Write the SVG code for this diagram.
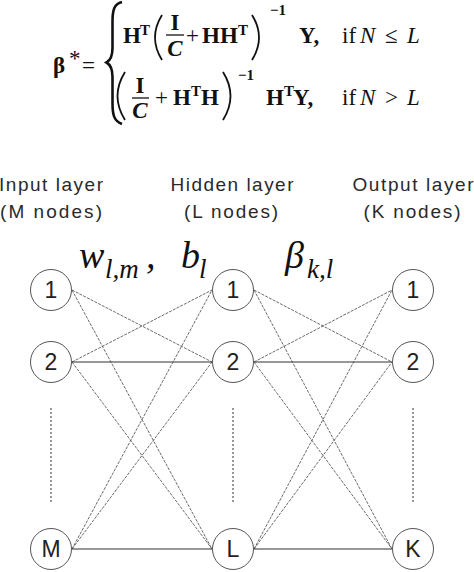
<svg xmlns="http://www.w3.org/2000/svg" width="474" height="572" viewBox="0 0 474 572">
<style>
.b{font-family:"Liberation Serif","DejaVu Serif",serif;font-weight:bold;font-size:23px;fill:#111}
.s{font-family:"Liberation Serif","DejaVu Serif",serif;font-weight:bold;font-size:15px;fill:#111}
.r{font-family:"Liberation Serif","DejaVu Serif",serif;font-size:23px;fill:#111}
.i{font-family:"Liberation Serif","DejaVu Serif",serif;font-style:italic;font-size:23px;fill:#111}
.p{fill:none;stroke:#111;stroke-width:1.8}
.lbl{font-family:"Liberation Sans","DejaVu Sans",sans-serif;font-size:19px;fill:#2a2a2a;text-anchor:middle}
.w{font-family:"Liberation Serif","DejaVu Serif",serif;font-style:italic;fill:#111}
.node circle{fill:#fff;stroke:#555;stroke-width:1}
.node text{font-family:"Liberation Sans","DejaVu Sans",sans-serif;font-size:23px;fill:#222;text-anchor:middle}
.d{stroke:#444;stroke-width:0.8;stroke-dasharray:3 1.2;fill:none}
.h{stroke:#333;stroke-width:1.2;fill:none}
.v{stroke:#333;stroke-width:1;stroke-dasharray:2 2;fill:none}
</style>
<g id="formula">
<text class="b" x="53" y="73">β</text><text class="r" x="69" y="66" font-size="15">*</text>
<text class="r" x="82" y="73">=</text>
<path d="M122 2 C114 4 112.5 10 112.5 22 L112.5 48 C112.5 56 111 60 106.5 62.5 C111 65 112.5 69 112.5 77 L112.5 103 C112.5 115 114 121 122 124" fill="none" stroke="#111" stroke-width="2.6"/>
<text class="b" x="123" y="43">H</text><text class="s" x="140" y="35">T</text>
<path class="p" d="M162 15 Q148 37.5 162 60"/>
<text class="b" x="175" y="30" text-anchor="middle" font-size="20">I</text>
<line x1="166" y1="35" x2="184" y2="35" stroke="#111" stroke-width="1.3"/>
<text class="i" x="175" y="56" text-anchor="middle" font-weight="bold">C</text>
<text class="r" x="186" y="43">+</text>
<text class="b" x="202" y="43">HH</text><text class="s" x="238" y="35">T</text>
<path class="p" d="M252 15 Q266 37.5 252 60"/>
<text class="s" x="270" y="15">−1</text>
<text class="b" x="299" y="43">Y,</text>
<text class="r" x="342" y="43">if</text><text class="i" x="360" y="43">N</text><text class="r" x="385" y="43">≤</text><text class="i" x="407" y="43">L</text>

<path class="p" d="M125 72 Q110 96 125 120"/>
<text class="b" x="140" y="93" text-anchor="middle" font-size="20">I</text>
<line x1="132" y1="98" x2="149" y2="98" stroke="#111" stroke-width="1.3"/>
<text class="i" x="140" y="118" text-anchor="middle" font-weight="bold">C</text>
<text class="r" x="155" y="105">+</text>
<text class="b" x="173" y="105">H</text><text class="s" x="191" y="96">T</text><text class="b" x="201" y="105">H</text>
<path class="p" d="M223 72 Q238 96 223 120"/>
<text class="s" x="238" y="80">−1</text>
<text class="b" x="266" y="105">H</text><text class="s" x="284" y="96">T</text><text class="b" x="293" y="105">Y,</text>
<text class="r" x="342" y="105">if</text><text class="i" x="360" y="105">N</text><text class="r" x="385" y="105">&gt;</text><text class="i" x="407" y="105">L</text>
</g>
<g id="labels">
<text class="lbl" x="51" y="191" textLength="104">Input layer</text>
<text class="lbl" x="51" y="218" textLength="102">(M nodes)</text>
<text class="lbl" x="232" y="191" textLength="123">Hidden layer</text>
<text class="lbl" x="231" y="218" textLength="94">(L nodes)</text>
<text class="lbl" x="413" y="191" textLength="121">Output layer</text>
<text class="lbl" x="412" y="218" textLength="97">(K nodes)</text>
<text class="w" x="79" y="268" font-size="38">w</text><text class="w" x="105" y="278" font-size="27">l,m</text><text class="w" x="146" y="268" font-size="38">,</text>
<text class="w" x="181" y="268" font-size="38">b</text><text class="w" x="199" y="278" font-size="27">l</text>
<text class="w" x="285" y="268" font-size="38">β</text><text class="w" x="307" y="278" font-size="27">k,l</text>
</g>
<g id="connectors">
<line class="d" x1="72" y1="290" x2="212" y2="362"/>
<line class="d" x1="72" y1="290" x2="212" y2="549"/>
<line class="d" x1="72" y1="362" x2="212" y2="290"/>
<line class="h" x1="72" y1="362" x2="212" y2="362"/>
<line class="d" x1="72" y1="362" x2="212" y2="549"/>
<line class="d" x1="72" y1="549" x2="212" y2="290"/>
<line class="d" x1="72" y1="549" x2="212" y2="362"/>
<line class="h" x1="72" y1="549" x2="212" y2="549"/>
<line class="d" x1="254" y1="290" x2="392" y2="362"/>
<line class="d" x1="254" y1="290" x2="392" y2="549"/>
<line class="d" x1="254" y1="362" x2="392" y2="290"/>
<line class="h" x1="254" y1="362" x2="392" y2="362"/>
<line class="d" x1="254" y1="362" x2="392" y2="549"/>
<line class="d" x1="254" y1="549" x2="392" y2="290"/>
<line class="d" x1="254" y1="549" x2="392" y2="362"/>
<line class="h" x1="254" y1="549" x2="392" y2="549"/>
<line class="v" x1="51" y1="408" x2="51" y2="504"/>
<line class="v" x1="233" y1="408" x2="233" y2="504"/>
<line class="v" x1="413" y1="408" x2="413" y2="504"/>
</g>
<g id="in1" class="node"><circle cx="51" cy="290" r="20.5"/><text x="51" y="298">1</text></g>
<g id="in2" class="node"><circle cx="51" cy="362" r="20.5"/><text x="51" y="370">2</text></g>
<g id="inM" class="node"><circle cx="51" cy="549" r="20.5"/><text x="51" y="557">M</text></g>
<g id="hid1" class="node"><circle cx="233" cy="290" r="20.5"/><text x="233" y="298">1</text></g>
<g id="hid2" class="node"><circle cx="233" cy="362" r="20.5"/><text x="233" y="370">2</text></g>
<g id="hidL" class="node"><circle cx="233" cy="549" r="20.5"/><text x="233" y="557">L</text></g>
<g id="out1" class="node"><circle cx="413" cy="290" r="20.5"/><text x="413" y="298">1</text></g>
<g id="out2" class="node"><circle cx="413" cy="362" r="20.5"/><text x="413" y="370">2</text></g>
<g id="outK" class="node"><circle cx="413" cy="549" r="20.5"/><text x="413" y="557">K</text></g>
</svg>
